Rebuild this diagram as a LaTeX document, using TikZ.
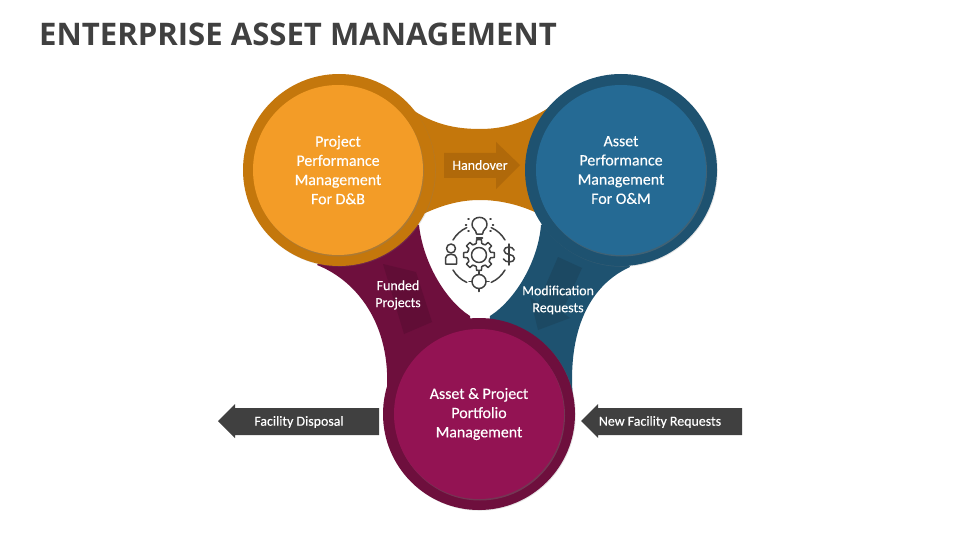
\documentclass[tikz,border=0pt]{standalone}
\usepackage{fontspec}
\setmainfont{Carlito}[FakeBold=0.25]
\newfontfamily\titlefont{Open Sans}
\usetikzlibrary{shapes,shadows}
\definecolor{orangeA}{HTML}{F39C27}
\definecolor{orangeB}{HTML}{C4770C}
\definecolor{orangeC}{HTML}{B0690A}
\definecolor{blueA}{HTML}{256A94}
\definecolor{blueB}{HTML}{1E5270}
\definecolor{blueC}{HTML}{1C4963}
\definecolor{plumA}{HTML}{931353}
\definecolor{plumB}{HTML}{6E0F3D}
\definecolor{plumC}{HTML}{610D36}
\definecolor{inkgrey}{HTML}{404040}
\begin{document}
\begin{tikzpicture}[x=1pt, y=-1pt,
    rimdisc/.style = {circle, minimum size=192pt, inner sep=0pt, drop shadow={shadow xshift=.8pt, shadow yshift=-.8pt, opacity=.2}},
    coredisc/.style = {circle, minimum size=170pt, inner sep=0pt, align=center, text=white,
        font=\fontsize{15.9}{19.2}\selectfont, drop shadow={shadow xshift=1pt, shadow yshift=-1.5pt, opacity=.35}},
    tag/.style = {text=white, align=center, font=\fontsize{13.9}{17}\selectfont},
    sidearrow/.style = {fill=inkgrey},
    icon/.style = {draw=inkgrey, line width=1.5pt, line cap=round, line join=round}]
  \useasboundingbox (0,0) rectangle (960,540);
  \node[anchor=west, inner sep=0pt, text=inkgrey, font=\titlefont\fontsize{31.1}{36}\selectfont\bfseries] (title) at (39,34) {ENTERPRISE ASSET MANAGEMENT};
  % bands
  \fill[plumB] (360,200) -- (317,265) .. controls (360,282) and (394,330) .. (386,400) -- (480,400) -- (470,316) .. controls (445,300) and (423,262) .. (419,225) -- cycle;
  \fill[blueB] (600,200) -- (630,267) .. controls (590,285) and (567,330) .. (573,400) -- (480,400) -- (490,316) .. controls (515,300) and (538,262) .. (541,225) -- cycle;
  \fill[orangeB] (400,100) .. controls (425,122) and (450,129) .. (480,129) .. controls (505,129) and (530,122) .. (560,100) -- (560,230) -- (537,213) .. controls (520,205) and (500,200) .. (480,200) .. controls (460,200) and (440,205) .. (415,218) -- cycle;
  % arrows in the bands
  \fill[orangeC] (444,153) -- (496,153) -- (496,142) -- (520,165) -- (496,189) -- (496,178) -- (444,178) -- cycle;
  \fill[plumC] (383,264) -- (416,272) -- (432,322) -- (404,334) -- cycle;
  \fill[blueC] (558,257) -- (582,268) -- (562,312) -- (570,318) -- (538,330) -- (530,297) -- (538,303) -- cycle;
  % discs
  \node[rimdisc, fill=orangeB] (rimD) at (339,170) {};
  \node[rimdisc, fill=blueB] (rimO) at (621,170) {};
  \node[rimdisc, fill=plumB] (rimP) at (479,414) {};
  \node[coredisc, fill=orangeA] (projperf) at (338,170) {Project\\Performance\\Management\\For D\&B};
  \node[coredisc, fill=blueA] (assetperf) at (621,170) {Asset\\Performance\\Management\\For O\&M};
  \node[coredisc, fill=plumA] (portfolio) at (479,414) {Asset \& Project\\Portfolio\\Management};
  % labels
  \node[tag] (handover) at (480,165) {Handover};
  \node[tag] (funded) at (398,295) {Funded\\Projects};
  \node[tag] (modif) at (558,300) {Modification\\Requests};
  % side arrows
  \fill[sidearrow] (379,408) -- (235,408) -- (235,404) -- (218,421) -- (235,438) -- (235,435) -- (379,435) -- cycle;
  \fill[sidearrow] (742,408) -- (598,408) -- (598,404) -- (581,421) -- (598,438) -- (598,435) -- (742,435) -- cycle;
  \node[tag] (disposal) at (299,422) {Facility Disposal};
  \node[tag] (newreq) at (660,422) {New Facility Requests};
  % icon
  \begin{scope}[shift={(479,255)}]
    \draw[icon] (0pt,0pt) circle (7.5pt);
    \foreach \a in {0,45,...,315}
      \draw[icon] (\a-22.5:11.5pt) -- (\a-13:12pt) -- (\a-9:15.5pt) -- (\a+9:15.5pt) -- (\a+13:12pt) -- (\a+22.5:11.5pt);
    \foreach \a/\b in {150/114,66/30,-30/-66,-114/-150}
      \draw[icon] (\a:30pt) arc[start angle=\a, end angle=\b, radius=30pt];
  \end{scope}
  % bulb
  \draw[icon] (476.5,234) .. controls (476,229) and (472,229) .. (472,224.5) .. controls (472,215) and (487,215) .. (487,224.5) .. controls (487,229) and (483,229) .. (482.5,234) -- cycle;
  \draw[icon] (476.5,238) -- (482.5,238);
  \draw[icon] (468,219) -- (469,219) (465.5,225) -- (466.5,225) (468,231) -- (469,231);
  \draw[icon] (490,219) -- (491,219) (492.5,225) -- (493.5,225) (490,231) -- (491,231);
  % target
  \draw[icon] (479,281.5) circle (7pt);
  \draw[icon] (479,271.5) -- (479,274.5) (479,288.5) -- (479,291.5) (469,281.5) -- (472,281.5) (486,281.5) -- (489,281.5);
  % person
  \draw[icon] (451,248.5) circle (4.5pt);
  \draw[icon] (445.5,264) -- (445.5,258) .. controls (445.5,253) and (456.5,253) .. (456.5,258) -- (456.5,264) -- cycle;
  % dollar
  \draw[icon] (514,250) .. controls (513,246) and (504,246) .. (504,250.5) .. controls (504,256) and (514.5,253) .. (514.5,258.5) .. controls (514.5,263) and (505,263) .. (503.5,259);
  \draw[icon] (509,244) -- (509,265);
\end{tikzpicture}
\end{document}
